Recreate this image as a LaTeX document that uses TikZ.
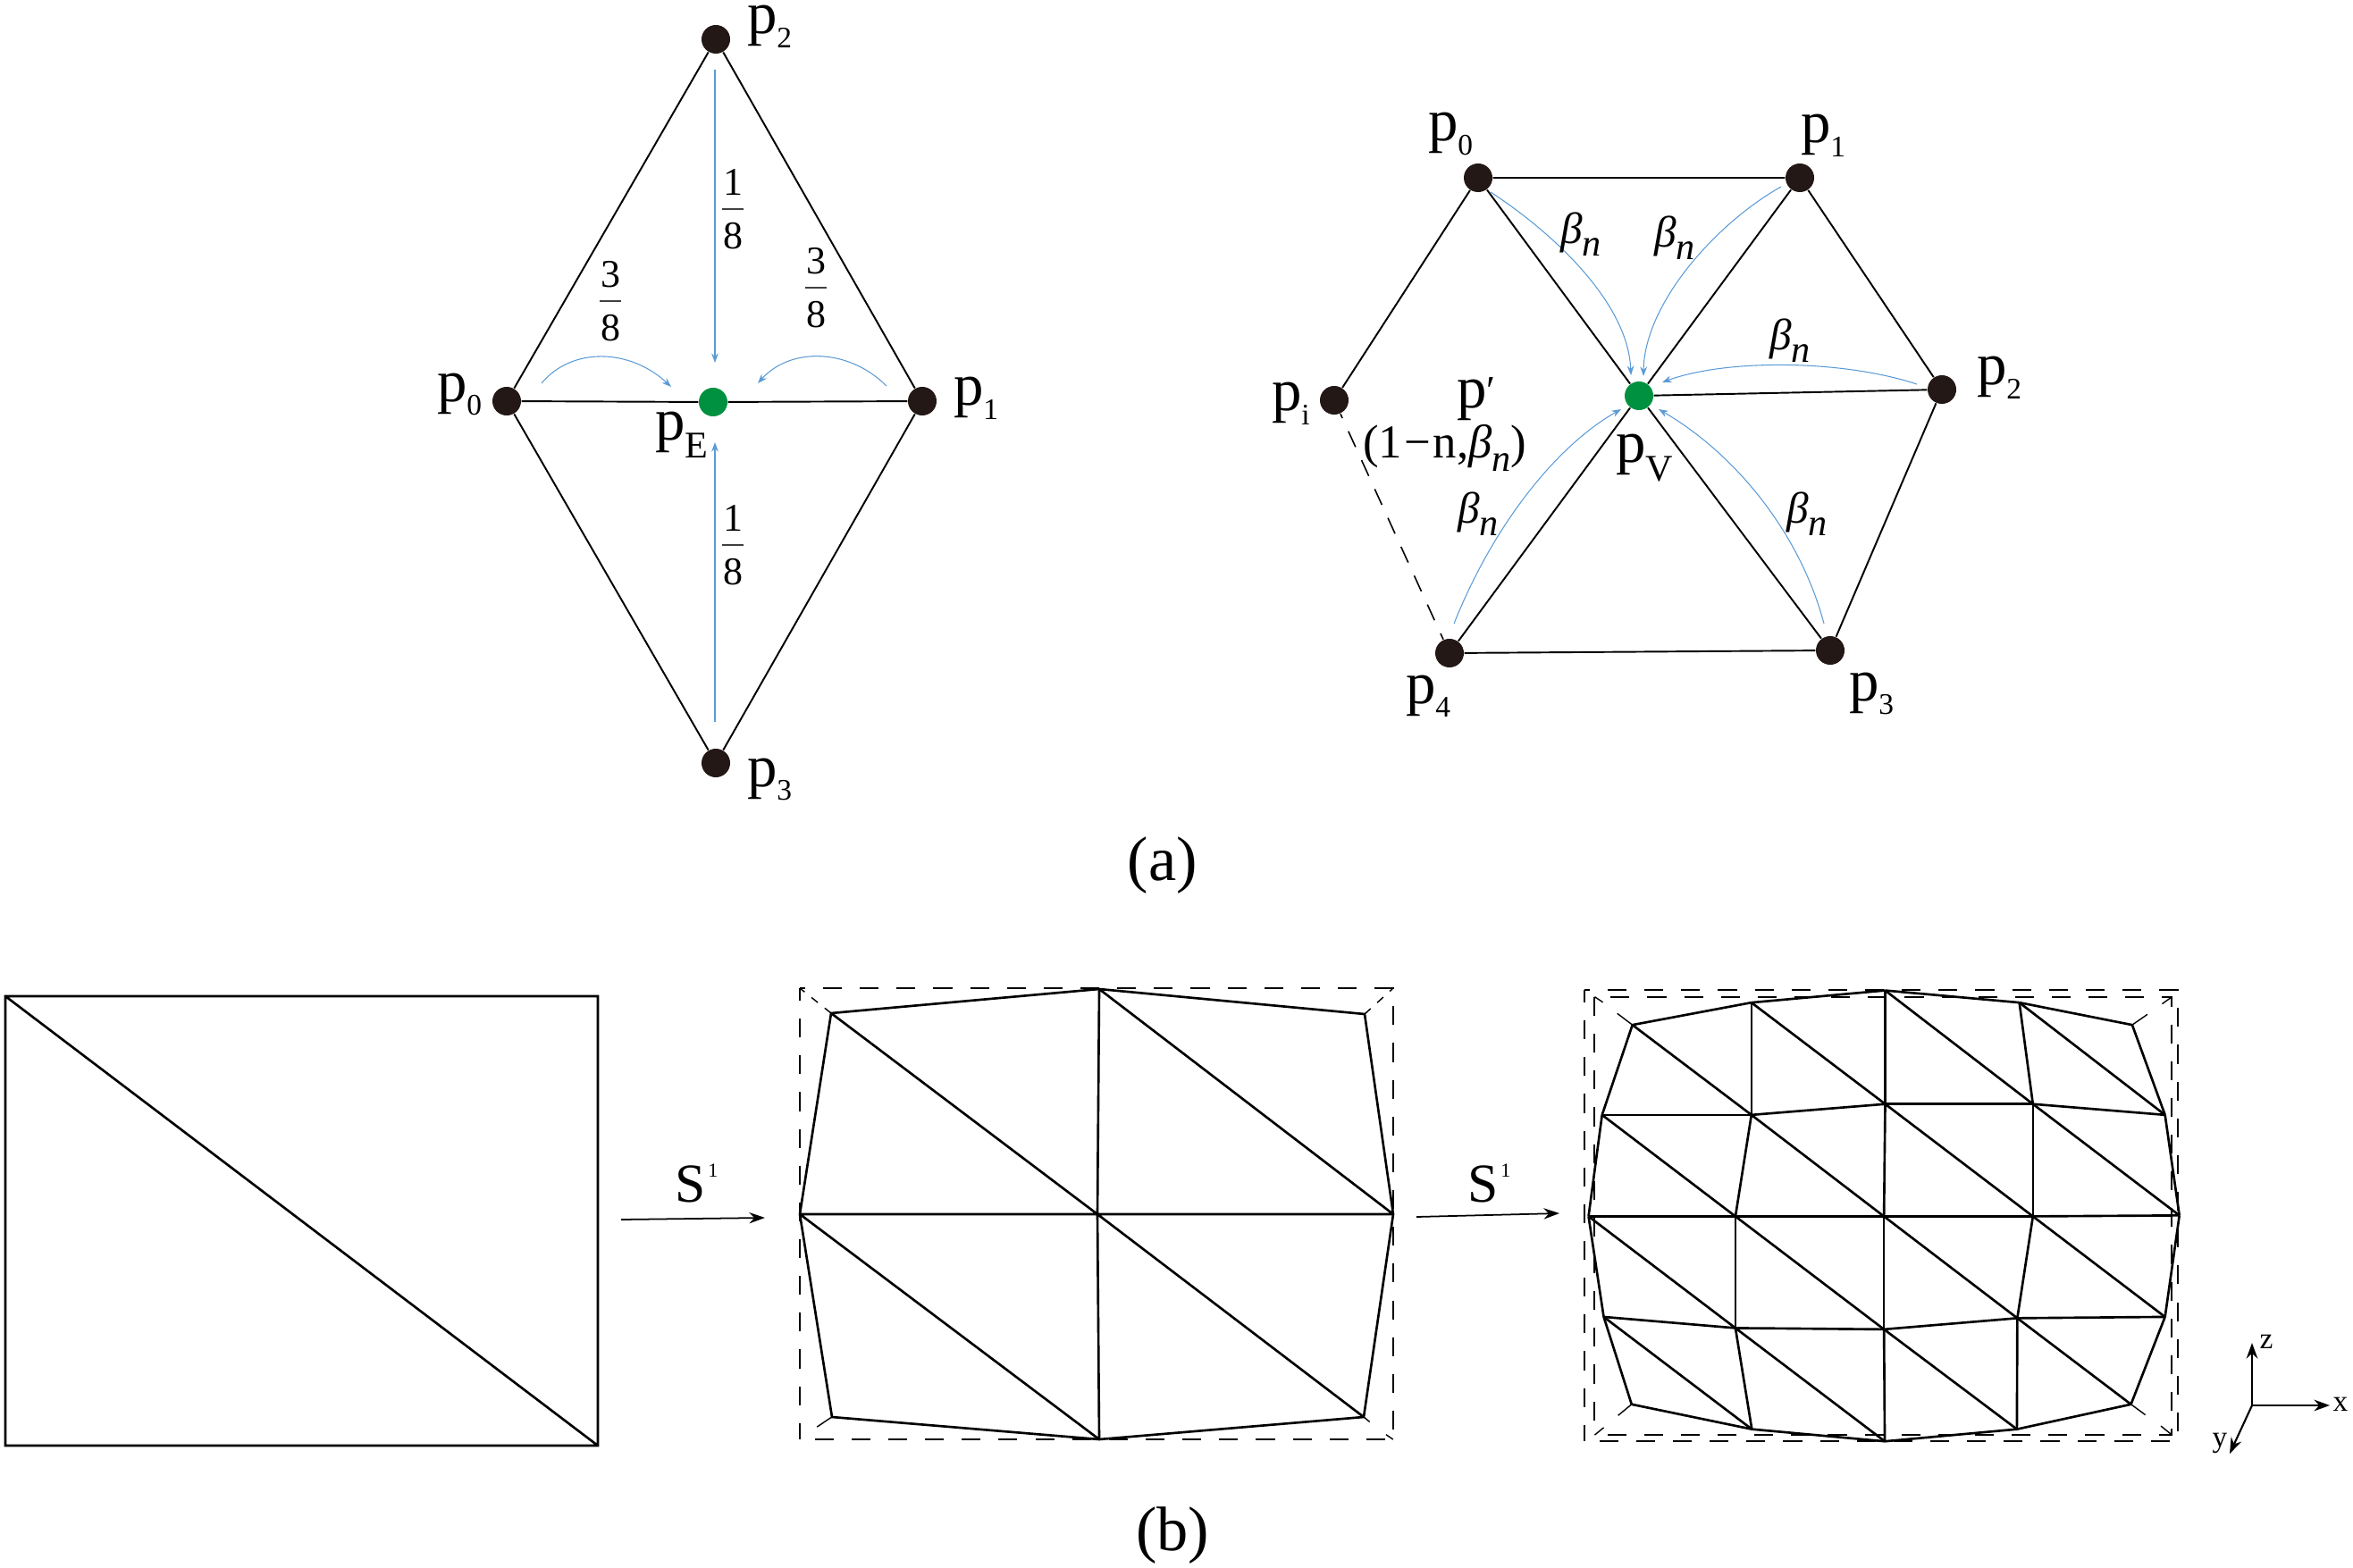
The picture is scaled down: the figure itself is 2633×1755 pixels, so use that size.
\documentclass[tikz,border=0pt]{standalone}
\usepackage{fontspec}
\setmainfont{Liberation Serif}
\usetikzlibrary{arrows.meta}
\definecolor{dotblack}{HTML}{231815}
\definecolor{dotgreen}{HTML}{009140}
\definecolor{wblue}{HTML}{5B9BD5}
\newcommand\psub[1]{{\fontsize{19}{19}\selectfont p}\raisebox{-4.4pt}{\fontsize{9.5}{10}\selectfont #1}}
\newcommand\pcap[1]{{\fontsize{19}{19}\selectfont p}\raisebox{-5.8pt}{\fontsize{12}{12}\selectfont #1}}
\newcommand\bn{{\fontsize{14}{14}\selectfont\itshape β\raisebox{-4pt}{\fontsize{12}{12}\selectfont n}}}
\newcommand\sone{\fontsize{17.5}{17.5}\selectfont S\kern0.05em\raisebox{7.7pt}{\fontsize{6.3}{6.3}\selectfont 1}}
\tikzset{
  dotk/.style={circle,fill=dotblack,minimum size=32*0.2845pt,inner sep=0pt},
  dotg/.style={circle,fill=dotgreen,minimum size=32*0.2845pt,inner sep=0pt},
  edgeln/.style={draw=black,line width=0.55pt},
  meshln/.style={draw=black,line width=0.75pt},
  blu/.style={draw=wblue,line width=0.3pt,-{Stealth[length=3pt,width=2.2pt]}},
  dashln/.style={draw=black,line width=0.42pt,dash pattern=on 6pt off 5.7pt},
  thinl/.style={draw=black,line width=0.4pt},
  lab/.style={inner sep=0pt,outer sep=0pt,anchor=base west},
  digit/.style={inner sep=0pt,outer sep=0pt,anchor=center,font=\fontsize{12.5}{12.5}\selectfont},
  barln/.style={draw=black!75,line width=0.3pt},
  bet/.style={inner sep=0pt,outer sep=0pt,anchor=center},
  arrln/.style={draw=black,line width=0.5pt,-{Stealth[length=5pt,width=3.5pt]}},
  axisln/.style={draw=black,line width=0.6pt,-{Stealth[length=5pt,width=3.6pt]}},
  captext/.style={inner sep=0pt,outer sep=0pt,anchor=base,font=\fontsize{20}{20}\selectfont}
}
\begin{document}
\begin{tikzpicture}[x=0.01cm,y=-0.01cm]
\useasboundingbox (0,0) rectangle (2633,1755);
% left diamond
\node[dotk] (a2) at (801,44) {};
\node[dotk] (a0) at (567,449) {};
\node[dotk] (a1) at (1032,449) {};
\node[dotk] (a3) at (801,854) {};
\node[dotg] (aE) at (798,450) {};
\draw[edgeln] (a0)--(a2) (a2)--(a1) (a1)--(a3) (a3)--(a0) (a0)--(aE) (aE)--(a1);
\coordinate (c1) at (800,78); \coordinate (c2) at (800,406);
\coordinate (c3) at (800,808); \coordinate (c4) at (800,495);
\coordinate (c5) at (606,429); \coordinate (c6) at (751,433);
\coordinate (c7) at (992,432); \coordinate (c8) at (848,429);
\draw[blu] (c1)--(c2);
\draw[blu] (c3)--(c4);
\draw[blu] (c5) .. controls (640,388) and (705,390) .. (c6);
\draw[blu] (c7) .. controls (950,390) and (885,388) .. (c8);
\node[lab] (la2) at (836,38) {\psub{2}};
\node[lab] (la1) at (1067,454) {\psub{1}};
\node[lab] (la0) at (489,449) {\psub{0}};
\node[lab] (la3) at (836,880) {\psub{3}};
\node[lab] (laE) at (733,492) {\pcap{E}};
\foreach \nm/\x/\y/\top/\bot in {fa/683/337/3/8,fb/913/322/3/8,fc/820/234/1/8,fd/820/610/1/8}{
  \node[digit] (\nm t) at (\x,\y-30) {\top};
  \node[digit] (\nm b) at (\x,\y+30) {\bot};
  \coordinate (\nm l) at (\x-12,\y); \coordinate (\nm r) at (\x+12,\y);
  \draw[barln] (\nm l)--(\nm r);
}
% right hexagon
\node[dotk] (b0) at (1654,199) {};
\node[dotk] (b1) at (2014,199) {};
\node[dotk] (b2) at (2173,436) {};
\node[dotk] (b3) at (2048,728) {};
\node[dotk] (b4) at (1622,731) {};
\node[dotk] (bi) at (1493,448) {};
\node[dotg] (bV) at (1834,443) {};
\draw[edgeln] (b0)--(b1) (b0)--(bV) (b1)--(bV) (b1)--(b2) (b2)--(bV) (b2)--(b3) (b3)--(bV) (b3)--(b4) (b4)--(bV) (b0)--(bi);
\draw[draw=black,line width=0.45pt,dash pattern=on 5.5pt off 4.6pt,dash phase=4pt] (bi)--(b4);
\coordinate (d0) at (1668,215); \coordinate (e0) at (1825,420);
\coordinate (d1) at (1993,209); \coordinate (e1) at (1839,421);
\coordinate (d2) at (2145,430); \coordinate (e2) at (1860,428);
\coordinate (d3) at (2041,698); \coordinate (e3) at (1856,458);
\coordinate (d4) at (1627,698); \coordinate (e4) at (1814,458);
\draw[blu] (d0) .. controls (1740,262) and (1822,340) .. (e0);
\draw[blu] (d1) .. controls (1920,250) and (1840,340) .. (e1);
\draw[blu] (d2) .. controls (2060,402) and (1930,402) .. (e2);
\draw[blu] (d3) .. controls (2015,600) and (1945,510) .. (e3);
\draw[blu] (d4) .. controls (1670,590) and (1740,500) .. (e4);
\node[lab] (lb0) at (1598,158) {\psub{0}};
\node[lab] (lb1) at (2015,160) {\psub{1}};
\node[lab] (lb2) at (2212,431) {\psub{2}};
\node[lab] (lb3) at (2069,784) {\psub{3}};
\node[lab] (lb4) at (1573,787) {\psub{4}};
\node[lab] (lbi) at (1423,460) {\psub{i}};
\node[lab] (lbp) at (1630,456) {\fontsize{19}{19}\selectfont p\raisebox{1pt}{\fontsize{13}{13}\selectfont ′}};
\node[lab] (lbV) at (1808,518) {\pcap{V}};
\node[lab] (lbw) at (1525,513) {\fontsize{15}{15}\selectfont (1\kern0.05em−\kern0.05em n,{\itshape β\raisebox{-4pt}{\fontsize{12}{12}\selectfont n}})};
\node[bet] (n1) at (1769,262) {\bn};
\node[bet] (n2) at (1874,266) {\bn};
\node[bet] (n3) at (2003,381) {\bn};
\node[bet] (n4) at (2022,575) {\bn};
\node[bet] (n5) at (1654,575) {\bn};
\node[captext] (capa) at (1301,985) {(a)};
\node[captext] (capb) at (1312,1735) {(b)};
% rectangle
\coordinate (r1) at (6,1115); \coordinate (r2) at (669,1115);
\coordinate (r3) at (669,1618); \coordinate (r4) at (6,1618);
\draw[meshln] (r1)--(r2)--(r3)--(r4)--cycle (r1)--(r3);
% second mesh
\coordinate (o1) at (895,1106); \coordinate (o2) at (1559,1106);
\coordinate (o3) at (1559,1611); \coordinate (o4) at (895,1611);
\draw[dashln,dash phase=4.3pt] (o1)--(o2)--(o3)--(o4);
\draw[dashln,dash phase=2pt] (o1)--(o4);
\coordinate (TL) at (930,1134); \coordinate (T) at (1230,1107); \coordinate (TR) at (1527,1135);
\coordinate (L) at (895,1359); \coordinate (C) at (1228,1359); \coordinate (R) at (1559,1359);
\coordinate (BL) at (931,1586); \coordinate (B) at (1230,1611); \coordinate (BR) at (1526,1586);
\draw[meshln] (TL)--(T)--(TR)--(R)--(BR)--(B)--(BL)--(L)--cycle;
\draw[meshln] (L)--(R) (T)--(C)--(B) (TL)--(C)--(BR) (T)--(R) (L)--(B);
\draw[dashln,dash pattern=on 2.6pt off 2.8pt] (TL)--(o1);
\draw[dashln,dash pattern=on 2.6pt off 2.8pt] (TR)--(o2);
\foreach \zx/\zy/\wx/\wy in {155/1416/118/1448,1450/1416/1465/1432,1505/1472/1522/1487}{
  \draw[thinl] ({860+\zx/2.178},{1080+\zy/2.8})--({860+\wx/2.178},{1080+\wy/2.8});
}
% third mesh
\coordinate (q1) at (1773,1108); \coordinate (q2) at (2437,1108);
\coordinate (q3) at (2437,1613); \coordinate (q4) at (1773,1613);
\coordinate (s1) at (1784,1116); \coordinate (s2) at (2430,1116);
\coordinate (s3) at (2430,1606); \coordinate (s4) at (1784,1606);
\draw[dashln,dash phase=4.3pt] (q1)--(q2)--(q3)--(q4);
\draw[dashln,dash phase=2pt] (q1)--(q4);
\draw[dashln,dash phase=6.5pt] (s1)--(s2)--(s3)--(s4);
\draw[dashln,dash phase=0pt] (s1)--(s4);
\foreach \n/\zx/\zy in {
 m00/167/188,m01/457/118,m02/783/80,m03/1110/118,m04/1385/188,
 m10/93/470,m11/457/470,m12/783/436,m13/1143/436,m14/1465/470,
 m20/60/788,m21/418/788,m22/780/788,m23/1143/788,m24/1500/785,
 m30/97/1103,m31/418/1138,m32/780/1142,m33/1105/1107,m34/1465/1103,
 m40/165/1377,m41/458/1455,m42/782/1493,m43/1104/1455,m44/1382/1377}{
  \coordinate (\n) at ({1750+\zx/2.178},{1080+\zy/2.8});
}
\foreach \i in {0,...,4}{
  \foreach \j [count=\k from 1] in {0,...,3}{
    \draw[meshln] (m\i\j)--(m\i\k);
    \draw[meshln] (m\j\i)--(m\k\i);
  }
}
\foreach \i [count=\ii from 1] in {0,...,3}{
  \foreach \j [count=\jj from 1] in {0,...,3}{
    \draw[meshln] (m\i\j)--(m\ii\jj);
  }
}
\foreach \zx/\zy/\wx/\wy in {167/188/130/152,1385/188/1422/155,165/1377/132/1412,1382/1377/1417/1410,
  75/100/95/117,1482/100/1458/122,75/1473/97/1450,1482/1473/1455/1445}{
  \draw[thinl] ({1750+\zx/2.178},{1080+\zy/2.8})--({1750+\wx/2.178},{1080+\wy/2.8});
}
% arrows
\coordinate (f1) at (695,1365); \coordinate (f2) at (856,1363);
\coordinate (g1) at (1585,1362); \coordinate (g2) at (1745,1358);
\draw[arrln] (f1)--(f2);
\draw[arrln] (g1)--(g2);
\node[lab] (s1a) at (755,1345) {\sone};
\node[lab] (s1b) at (1642,1345) {\sone};
% axes
\coordinate (ax) at (2520,1573);
\coordinate (az) at (2520,1503); \coordinate (ax1) at (2607,1573); \coordinate (ay) at (2495,1627);
\draw[axisln] (ax)--(az);
\draw[axisln] (ax)--(ax1);
\draw[axisln] (ax)--(ay);
\node[inner sep=0pt,font=\fontsize{9.5}{10}\selectfont] (lz) at (2536,1502) {z};
\node[inner sep=0pt,font=\fontsize{9.5}{10}\selectfont] (lx) at (2619,1572) {x};
\node[inner sep=0pt,font=\fontsize{9.5}{10}\selectfont] (ly) at (2484,1615) {y};
\end{tikzpicture}
\end{document}
